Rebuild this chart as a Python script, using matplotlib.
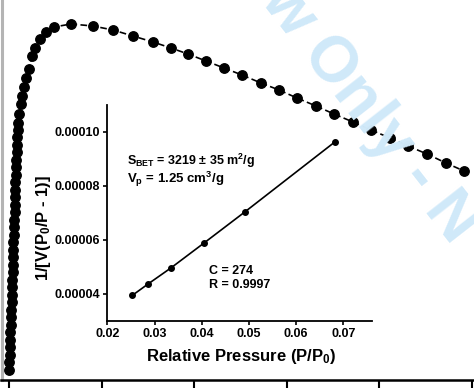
import matplotlib
matplotlib.use("Agg")
import matplotlib.pyplot as plt
from matplotlib.ticker import FormatStrFormatter

plt.rcParams['font.family'] = ['Liberation Sans', 'DejaVu Sans']
plt.rcParams['font.weight'] = 'bold'
plt.rcParams['mathtext.fontset'] = 'custom'
plt.rcParams['mathtext.rm'] = 'Liberation Sans:bold'
plt.rcParams['mathtext.it'] = 'Liberation Sans:bold'
plt.rcParams['mathtext.bf'] = 'Liberation Sans:bold'

# main isotherm (cropped in the figure)
iso_p = [0.000, 0.0006, 0.0013, 0.0019, 0.0026, 0.0032, 0.0039, 0.0043, 0.0050, 0.0054,
         0.0060, 0.0065, 0.0071, 0.0076, 0.0082, 0.0086, 0.0093, 0.0097, 0.0104, 0.0108,
         0.0114, 0.0119, 0.0125, 0.0130, 0.0136, 0.0140, 0.0147, 0.0151, 0.0158, 0.0164,
         0.0173, 0.0179, 0.0188, 0.0194, 0.0216, 0.0259, 0.0281, 0.0324, 0.0367, 0.0432,
         0.0497, 0.0562, 0.0670, 0.0799, 0.0972, 0.1339, 0.1814, 0.2246, 0.2678, 0.3110,
         0.3499, 0.3866, 0.4255, 0.4644, 0.5032, 0.5443, 0.5832, 0.6220, 0.6631, 0.7019,
         0.7430, 0.7819, 0.8229, 0.8618, 0.9028, 0.9438, 0.9827]
iso_v = [25, 45, 62.5, 82.5, 100, 120, 137.5, 157.5, 175, 195,
         212.5, 232.5, 250, 270, 287.5, 307.5, 325, 345, 362.5, 382.5,
         400, 420, 437.5, 457.5, 475, 495, 512.5, 532.5, 550, 570,
         587.5, 607.5, 625, 642.5, 665, 690, 710, 732.5, 755, 777.5,
         810, 830, 852.5, 870, 882.5, 890, 885, 875, 860, 845,
         830, 815, 797.5, 780, 762.5, 742.5, 725, 705, 685, 665,
         645, 625, 605, 585, 565, 542.5, 522.5]
iso_ticks = [0.0, 0.2, 0.4, 0.6, 0.8, 1.0]

# BET inset
bet_p = [0.0253, 0.0287, 0.0335, 0.0404, 0.0491, 0.0682]
bet_y = [0.0000394, 0.0000437, 0.0000496, 0.0000587, 0.0000703, 0.0000963]
bet_xticks = [0.02, 0.03, 0.04, 0.05, 0.06, 0.07]
bet_yticks = [0.00004, 0.00006, 0.00008, 0.00010]

fig = plt.figure(figsize=(4.74, 3.88), dpi=100)

ax = fig.add_axes([1.5 / 474, 8 / 388, 1.2, 1.2])
ax.plot(iso_p, iso_v, color='black', lw=1.2, linestyle=(0, (4, 2)),
        marker='o', markersize=6.8, markerfacecolor='black', markeredgecolor='black')
ax.set_xlim(-0.0162, 1.2123)
ax.set_ylim(0, 1164)
ax.set_xticks(iso_ticks)
ax.set_yticks([])
ax.tick_params(axis='x', direction='out', length=6, width=1.5, labelbottom=False)
ax.spines['bottom'].set_linewidth(1.8)
ax.spines['left'].set_linewidth(2.2)
ax.spines['left'].set_color('#b4b4b4')
ax.spines['top'].set_visible(False)
ax.spines['right'].set_visible(False)

# watermark (cut off by the figure edges, as in the source)
fig.text(369 / 474, 1 - 113 / 388, 'w Only - N', color='#d0e9f9', fontsize=46,
         fontweight='bold', rotation=-52, ha='center', va='center',
         rotation_mode='anchor', zorder=0)

ins = fig.add_axes([107.3 / 474, (388 - 320.7) / 388, 264.4 / 474, 215.7 / 388])
ins.set_facecolor('none')
ins.plot(bet_p, bet_y, color='black', lw=1.2, marker='o', markersize=4)
ins.set_xlim(0.02, 0.076)
ins.set_ylim(0.00003, 0.00011)
ins.set_xticks(bet_xticks)
ins.set_yticks(bet_yticks)
ins.yaxis.set_major_formatter(FormatStrFormatter('%.5f'))
ins.xaxis.set_major_formatter(FormatStrFormatter('%.2f'))
ins.tick_params(direction='out', length=3, width=1.2, labelsize=9, pad=2)
for s in ['top', 'right']:
    ins.spines[s].set_visible(False)
for s in ['left', 'bottom']:
    ins.spines[s].set_linewidth(1.3)

ins.set_xlabel('Relative Pressure (P/P$_0$)', fontsize=12, fontweight='bold')
ins.xaxis.set_label_coords(0.506, -0.164)
ins.xaxis.label.set_va('center')
ins.set_ylabel('1/[V(P$_0$/P - 1)]', fontsize=12, fontweight='bold')
ins.yaxis.set_label_coords(-0.243, 0.43)
ins.yaxis.label.set_va('center')

ins.text(0.075, 0.74, 'S$_{\\mathrm{BET}}$ = 3219 ± 35 m$^{2}$/g', transform=ins.transAxes,
         fontsize=9, va='center', ha='left')
ins.text(0.075, 0.655, 'V$_{\\mathrm{p}}$ = 1.25 cm$^{3}$/g', transform=ins.transAxes,
         fontsize=9.5, va='center', ha='left')
ins.text(0.385, 0.23, 'C = 274', transform=ins.transAxes, fontsize=9, va='center', ha='left')
ins.text(0.385, 0.165, 'R = 0.9997', transform=ins.transAxes, fontsize=9, va='center', ha='left')

fig.savefig('out.png', dpi=100)
